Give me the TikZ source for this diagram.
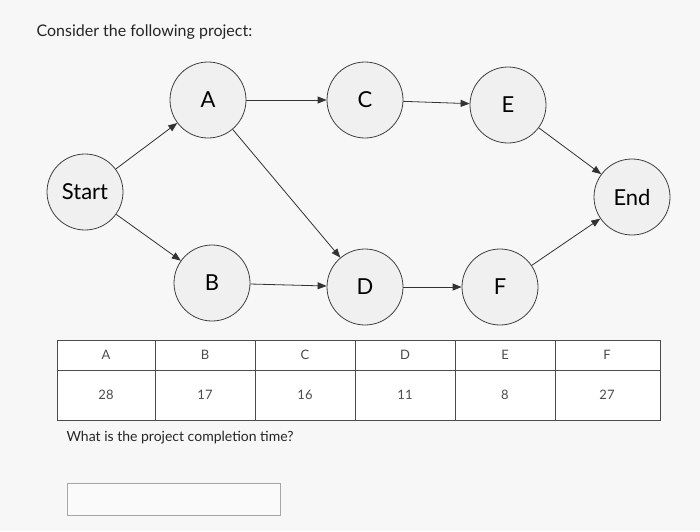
\documentclass[tikz,border=0pt]{standalone}
\usepackage{fontspec}
\setmainfont{Lato}
\usetikzlibrary{arrows.meta}
\begin{document}
\begin{tikzpicture}[x=1pt,y=-1pt,
  ev/.style={circle,draw=black!75,fill=black!6,line width=0.8pt,minimum size=76pt,inner sep=0pt,font=\fontsize{22}{24}\selectfont},
  con/.style={draw=black!80,line width=0.8pt,-{Triangle[length=9pt,width=7pt]}},
  cell/.style={font=\fontsize{13}{15}\selectfont,text=black!70}]
\fill[black!3] (0,0) rectangle (700,531);
\useasboundingbox (0,0) rectangle (700,531);
\node[anchor=west,font=\fontsize{16}{19}\selectfont,text=black!85] (t) at (33,32) {Consider the following project:};
\node[ev] (S) at (85,192) {Start};
\node[ev] (A) at (208,100) {A};
\node[ev] (C) at (365,100) {C};
\node[ev] (E) at (508,105) {E};
\node[ev] (B) at (212,283) {B};
\node[ev] (D) at (365,287) {D};
\node[ev] (F) at (500,287) {F};
\node[ev] (N) at (632,197) {End};
\draw[con] (S) -- (A);
\draw[con] (S) -- (B);
\draw[con] (A) -- (C);
\draw[con] (C) -- (E);
\draw[con] (A) -- (D);
\draw[con] (B) -- (D);
\draw[con] (D) -- (F);
\draw[con] (E) -- (N);
\draw[con] (F) -- (N);
\fill[white] (57,340) rectangle (660,420);
\draw[black!70,line width=0.8pt] (57,340) rectangle (660,420);
\draw[black!70,line width=0.8pt] (57,370) -- (660,370);
\foreach \x in {155,255,355,455,555} \draw[black!70,line width=0.8pt] (\x,340) -- (\x,420);
\foreach \n/\l/\v/\x in {a/A/28/106,b/B/17/205,c/C/16/305,d/D/11/405,e/E/8/505,f/F/27/607}{
  \node[cell] (h\n) at (\x,355) {\l};
  \node[cell] (v\n) at (\x,395) {\v};
}
\node[anchor=west,font=\fontsize{14}{17}\selectfont,text=black!85] (q) at (63,438) {What is the project completion time?};
\draw[black!35,fill=black!2] (67,483) rectangle (280,515);
\end{tikzpicture}
\end{document}
